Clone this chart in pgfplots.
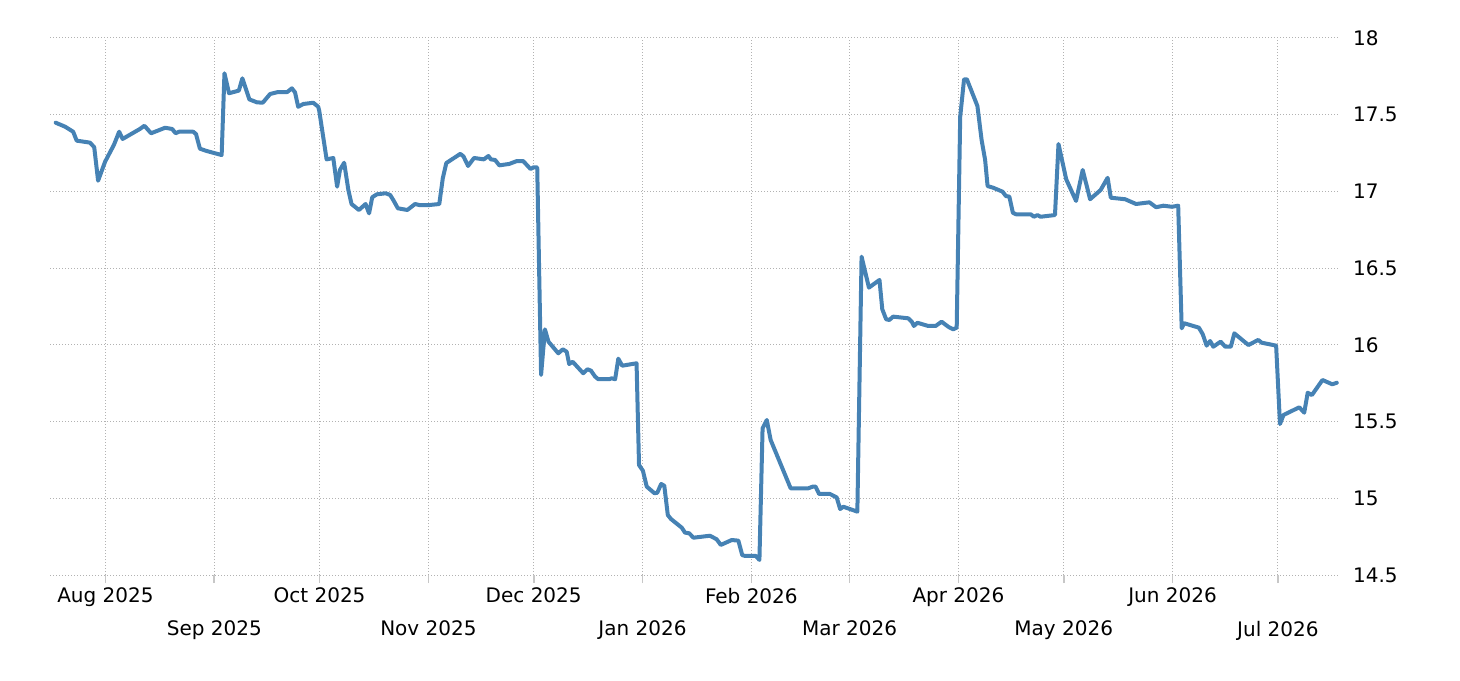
\documentclass[border=0pt]{standalone}
\usepackage{fontspec}
\setmainfont{DejaVu Sans}
\usepackage{pgfplots}
\usepackage{pgfplotstable}
\pgfplotsset{compat=1.18}
\definecolor{lineblue}{RGB}{70,130,180}
% x = days since 1 Aug 2025, y = value
\pgfplotstableread{
d v
-14.2 17.448
-11.5 17.422
-9.2 17.389
-8.2 17.331
-4.4 17.318
-3.2 17.288
-2.1 17.070
-0.1 17.194
2.4 17.303
3.9 17.389
4.9 17.342
9.8 17.407
11.1 17.428
13.0 17.379
17.0 17.415
19.0 17.407
20.0 17.379
20.9 17.389
25.0 17.389
25.8 17.374
26.9 17.279
28.6 17.265
33.1 17.237
33.9 17.770
35.2 17.640
38.0 17.657
39.0 17.737
41.0 17.600
43.1 17.581
44.8 17.578
46.9 17.635
49.2 17.648
51.8 17.648
53.1 17.672
54.0 17.646
54.9 17.552
56.4 17.570
59.2 17.578
60.6 17.552
60.9 17.526
63.0 17.209
64.9 17.218
66.0 17.031
66.8 17.140
68.0 17.187
69.2 17.009
70.1 16.918
72.2 16.879
74.1 16.918
75.1 16.857
76.0 16.962
77.3 16.981
79.8 16.988
81.1 16.977
82.0 16.944
83.3 16.890
86.0 16.879
88.2 16.918
89.6 16.910
91.7 16.910
95.1 16.918
96.1 17.086
97.1 17.185
101.1 17.245
102.0 17.228
103.3 17.166
105.0 17.218
107.8 17.209
109.1 17.231
109.8 17.209
111.0 17.205
112.2 17.170
115.0 17.179
117.2 17.198
119.0 17.198
121.1 17.146
121.9 17.157
123.0 17.157
124.1 15.804
125.2 16.101
126.2 16.021
129.0 15.945
130.3 15.971
131.4 15.955
132.1 15.875
133.1 15.890
136.1 15.815
137.3 15.841
138.3 15.832
139.5 15.793
140.4 15.776
143.5 15.776
144.2 15.782
145.2 15.776
146.1 15.910
147.2 15.864
151.3 15.880
152.0 15.217
153.1 15.180
154.2 15.076
156.4 15.033
157.2 15.036
158.3 15.093
159.2 15.082
160.2 14.891
161.1 14.865
164.2 14.808
165.1 14.776
166.3 14.772
167.5 14.743
172.2 14.756
174.1 14.733
175.3 14.696
178.4 14.728
180.3 14.724
181.4 14.630
182.2 14.624
185.3 14.624
186.3 14.598
187.2 15.456
188.4 15.510
189.5 15.380
195.2 15.065
200.2 15.065
201.5 15.076
202.3 15.076
203.3 15.028
206.4 15.028
208.3 15.006
209.3 14.930
210.2 14.945
214.2 14.913
215.4 16.575
217.5 16.373
220.5 16.423
221.3 16.232
222.4 16.167
223.3 16.162
224.4 16.184
228.7 16.173
229.7 16.151
230.3 16.123
231.3 16.144
234.4 16.123
236.5 16.123
238.2 16.151
240.1 16.118
241.5 16.101
242.5 16.112
243.5 17.487
244.6 17.731
245.4 17.731
248.4 17.557
249.6 17.335
250.6 17.205
251.3 17.035
252.9 17.024
255.6 16.998
256.5 16.970
257.5 16.966
258.5 16.861
259.4 16.851
263.6 16.851
264.5 16.835
265.5 16.846
266.4 16.835
270.5 16.846
271.5 17.309
273.7 17.079
276.5 16.938
278.4 17.140
280.5 16.949
283.5 17.009
285.5 17.089
286.4 16.959
290.5 16.949
293.6 16.918
297.4 16.929
299.3 16.897
301.4 16.907
303.8 16.900
305.6 16.907
306.6 16.108
307.3 16.141
311.5 16.112
312.6 16.069
313.7 15.995
314.7 16.025
315.6 15.988
317.7 16.021
319.0 15.988
320.6 15.988
321.6 16.075
325.6 15.999
328.4 16.032
329.4 16.014
333.5 15.995
334.6 15.484
335.6 15.543
340.1 15.593
341.5 15.558
342.5 15.688
343.7 15.673
346.7 15.771
349.5 15.743
350.8 15.753
}\datatable
\begin{document}
\begin{tikzpicture}
\useasboundingbox (0,0) rectangle (730pt,340pt);
\begin{axis}[
  at={(25pt,52.5pt)}, anchor=south west,
  width=645pt, height=268.5pt, scale only axis,
  xmin=-15.8, xmax=351.7, ymin=14.5, ymax=18,
  axis line style={draw=none},
  xtick={0,61,122,184,243,304},
  xticklabels={Aug 2025, Oct 2025, Dec 2025, Feb 2026, Apr 2026, Jun 2026},
  xticklabel style={yshift=1pt},
  extra x ticks={31,92,153,212,273,334},
  extra x tick labels={Sep 2025, Nov 2025, Jan 2026, Mar 2026, May 2026, Jul 2026},
  extra x tick style={grid=major, xticklabel style={yshift=-16.5pt}},
  ytick={14.5,15,15.5,16,16.5,17,17.5,18},
  grid=major,
  major grid style={black!30, dash pattern=on 0.5pt off 1pt, line width=0.5pt},
  tick align=outside,
  xtick pos=left,
  ytick pos=right,
  yticklabel pos=right,
  yticklabel style={xshift=-1pt},
  x tick style={black!22, line width=0.8pt},
  y tick style={draw=none},
  major tick length=4pt,
  ticklabel style={font=\fontsize{10}{12}\selectfont},
  /pgf/number format/assume math mode=true,
]
\addplot[lineblue, line width=2pt, line join=round, line cap=round] table[x=d, y=v] {\datatable};
\end{axis}
\end{tikzpicture}
\end{document}
